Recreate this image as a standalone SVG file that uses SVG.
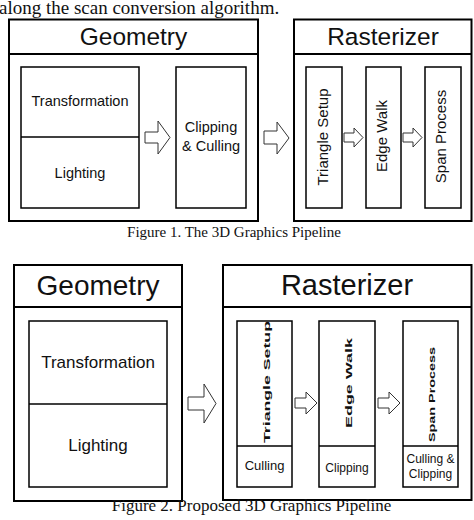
<svg xmlns="http://www.w3.org/2000/svg" width="474" height="520" viewBox="0 0 474 520">
<style>
.outer{fill:#fff;stroke:#000;stroke-width:2}
.inner{fill:#fff;stroke:#000;stroke-width:1.5}
.div{stroke:#000;stroke-width:2}
.divi{stroke:#000;stroke-width:1.5}
.arrow{fill:#fff;stroke:#333;stroke-width:1}
.sans{font-family:"Liberation Sans",Arial,sans-serif;fill:#111;text-anchor:middle}
.serif{font-family:"Liberation Serif","Times New Roman",serif;fill:#111}
.squash{font-family:"Liberation Sans",Arial,sans-serif;fill:#111;font-weight:bold;font-size:9px;text-anchor:middle}
</style>
<rect width="474" height="520" fill="#fff"/>
<text class="serif" x="-1" y="14" font-size="19">along the scan conversion algorithm.</text>

<!-- Figure 1 -->
<g id="geometry1">
<rect class="outer" x="9" y="19.5" width="249" height="201.5"/>
<line class="div" x1="9" y1="54" x2="258" y2="54"/>
<text class="sans" x="133.5" y="45" font-size="24.5">Geometry</text>
</g>
<g id="transform-lighting1">
<rect class="inner" x="21" y="67" width="118" height="141"/>
<line class="divi" x1="21" y1="137" x2="139" y2="137"/>
<text class="sans" x="80" y="106" font-size="14.5">Transformation</text>
<text class="sans" x="80" y="178" font-size="14.5">Lighting</text>
</g>
<g id="clipping-culling1">
<rect class="inner" x="176" y="67" width="70" height="141"/>
<text class="sans" x="211" y="132" font-size="14.5">Clipping</text>
<text class="sans" x="211" y="151" font-size="14.5">&amp; Culling</text>
</g>
<g id="rasterizer1">
<rect class="outer" x="294" y="19.5" width="177.5" height="201.5"/>
<line class="div" x1="294" y1="54" x2="471.5" y2="54"/>
<text class="sans" x="383" y="45" font-size="24.5">Rasterizer</text>
</g>
<g id="triangle-setup1">
<rect class="inner" x="306" y="67" width="36" height="141"/>
<text class="sans" transform="translate(328,137) rotate(-90)" font-size="15">Triangle Setup</text>
</g>
<g id="edge-walk1">
<rect class="inner" x="366" y="67" width="35" height="141"/>
<text class="sans" transform="translate(387,136) rotate(-90)" font-size="15">Edge Walk</text>
</g>
<g id="span-process1">
<rect class="inner" x="425" y="67" width="36" height="141"/>
<text class="sans" transform="translate(446,136.5) rotate(-90)" font-size="15">Span Process</text>
</g>
<text class="serif" x="234" y="237" font-size="15" text-anchor="middle">Figure 1. The 3D Graphics Pipeline</text>

<!-- Figure 2 -->
<g id="geometry2">
<rect class="outer" x="14" y="265" width="168" height="236"/>
<line class="div" x1="14" y1="307" x2="182" y2="307"/>
<text class="sans" x="98" y="295" font-size="28">Geometry</text>
</g>
<g id="transform-lighting2">
<rect class="inner" x="29" y="321" width="138" height="166"/>
<line class="divi" x1="29" y1="404" x2="167" y2="404"/>
<text class="sans" x="98" y="368" font-size="17">Transformation</text>
<text class="sans" x="98" y="451" font-size="17">Lighting</text>
</g>
<g id="rasterizer2">
<rect class="outer" x="223" y="265" width="248.5" height="235"/>
<line class="div" x1="223" y1="307" x2="471.5" y2="307"/>
<text class="sans" x="347" y="295" font-size="29">Rasterizer</text>
</g>
<g id="culling-box">
<rect class="inner" x="237" y="321" width="55" height="166"/>
<line class="divi" x1="237" y1="446" x2="292" y2="446"/>
<text class="squash" transform="translate(269.5,382) rotate(-90)" textLength="122" lengthAdjust="spacingAndGlyphs">Triangle Setup</text>
<text class="sans" x="264.5" y="470" font-size="13">Culling</text>
</g>
<g id="clipping-box">
<rect class="inner" x="319" y="321" width="56" height="166"/>
<line class="divi" x1="319" y1="446" x2="375" y2="446"/>
<text class="squash" transform="translate(351.5,383) rotate(-90)" textLength="90" lengthAdjust="spacingAndGlyphs">Edge Walk</text>
<text class="sans" x="347" y="472" font-size="12">Clipping</text>
</g>
<g id="culling-clipping-box">
<rect class="inner" x="403" y="321" width="55" height="166"/>
<line class="divi" x1="403" y1="446" x2="458" y2="446"/>
<text class="squash" transform="translate(434.5,394.5) rotate(-90)" textLength="95" lengthAdjust="spacingAndGlyphs">Span Process</text>
<text class="sans" x="430.5" y="463" font-size="12">Culling &amp;</text>
<text class="sans" x="430.5" y="477.5" font-size="12">Clipping</text>
</g>
<text class="serif" x="251.5" y="511" font-size="17" text-anchor="middle">Figure 2. Proposed 3D Graphics Pipeline</text>

<g id="connectors">
<polygon class="arrow" points="145,132 158,132 158,121 170,137.5 158,154 158,143 145,143"/>
<polygon class="arrow" points="264,131 277,131 277,122 289,138 277,154 277,144 264,144"/>
<polygon class="arrow" points="344,133 354,133 354,128 363,137.5 354,147 354,142 344,142"/>
<polygon class="arrow" points="403,133 413,133 413,128 422,137.5 413,147 413,142 403,142"/>
<polygon class="arrow" points="188,397 204,397 204,384 216,403.5 204,423 204,410 188,410"/>
<polygon class="arrow" points="295,398 306,398 306,392 317,403 306,414 306,408 295,408"/>
<polygon class="arrow" points="378,398 389,398 389,392 400,403 389,414 389,408 378,408"/>
</g>
</svg>
